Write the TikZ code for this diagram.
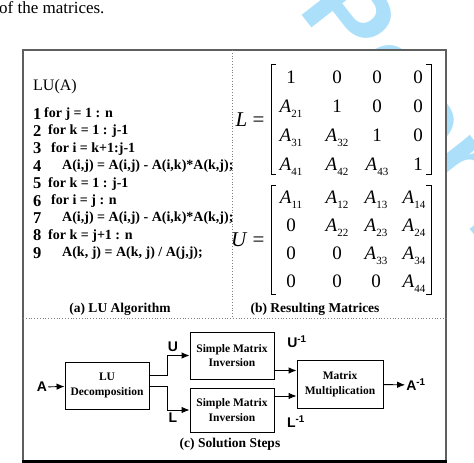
\documentclass[tikz,border=0pt]{standalone}
\usepackage{fontspec}
\setmainfont{Liberation Serif}
\newfontfamily\lblfont{Liberation Sans}
\usetikzlibrary{arrows.meta,positioning,calc}
\definecolor{wmcyan}{RGB}{172,224,250}
\definecolor{framegray}{RGB}{95,95,95}
\newcommand{\Asub}[1]{\textit{A}\raisebox{-0.55ex}{\fontsize{11}{11}\selectfont #1}}

\begin{document}
\begin{tikzpicture}[x=1pt,y=-1pt,
  blk/.style={draw,line width=0.9pt,minimum width=84pt,minimum height=47pt,inner sep=1pt,align=center,font=\fontsize{11.5}{14.5}\selectfont\bfseries},
  arr/.style={line width=0.9pt,-{Latex[length=8pt,width=6.5pt]}},
  lbl/.style={inner sep=1pt,font=\fontsize{14}{14}\selectfont\lblfont\bfseries},
  captxt/.style={font=\fontsize{13.5}{14}\selectfont\bfseries},
  code/.style={anchor=base west,inner sep=0pt,font=\fontsize{14}{14}\selectfont\bfseries},
  num/.style={anchor=base west,inner sep=0pt,font=\fontsize{16.5}{16}\selectfont\bfseries},
  ent/.style={anchor=base,inner sep=0pt,font=\fontsize{19}{19}\selectfont}]
\useasboundingbox (0,0) rectangle (474,463);
\node[font=\fontsize{111}{111}\selectfont\lblfont\bfseries,text=wmcyan,rotate=-52,anchor=west,inner sep=0pt] (wm) at (200,-180) {For Peer Review};
\node[font=\fontsize{17}{17}\selectfont,anchor=base west,inner sep=0pt] (hdr) at (-1,13) {of the matrices.};

\fill[white] (23,50) rectangle (446,462);
\draw[framegray,line width=1.2pt] (23,462) -- (23,50) -- (446,50) -- (446,462);
\draw[line width=2.5pt] (22,461.5) -- (447,461.5);
\draw[gray,dotted,line width=0.8pt] (232,50) -- (232,318);
\draw[gray,dotted,line width=0.8pt] (23,318) -- (446,318);

\node[font=\fontsize{16}{16}\selectfont,anchor=west,inner sep=0pt] (title) at (33,87) {LU(A)};
\foreach \i in {1,...,9}
  \node[num] (n\i) at (33,{113+17.4*(\i-1)+6}) {\i};
\node[code] (l1) at (44,117.5) {for j = 1 : n};
\node[code] (l2) at (48,134.9) {for k = 1 : j-1};
\node[code] (l3) at (51,152.3) {for i = k+1:j-1};
\node[code] (l4) at (62,169.7) {A(i,j) = A(i,j) - A(i,k)*A(k,j);};
\node[code] (l5) at (48,187.1) {for k = 1 : j-1};
\node[code] (l6) at (51,204.5) {for i = j : n};
\node[code] (l7) at (62,221.9) {A(i,j) = A(i,j) - A(i,k)*A(k,j);};
\node[code] (l8) at (48,239.3) {for k = j+1 : n};
\node[code] (l9) at (62,256.7) {A(k, j) = A(k, j) / A(j,j);};

\node[font=\fontsize{21}{21}\selectfont,anchor=east] (leq) at (268,120) {\textit{L} =};
\node[font=\fontsize{21}{21}\selectfont,anchor=east] (ueq) at (268,240) {\textit{U} =};
\foreach \r/\y/\a/\b/\c/\d in {1/77/1/0/0/0, 2/106/{\Asub{21}}/1/0/0, 3/135/{\Asub{31}}/{\Asub{32}}/1/0, 4/164/{\Asub{41}}/{\Asub{42}}/{\Asub{43}}/1}{
  \node[ent] (la\r) at (291,\y+6.5) {\a};
  \node[ent] (lb\r) at (337,\y+6.5) {\b};
  \node[ent] (lc\r) at (377,\y+6.5) {\c};
  \node[ent] (ld\r) at (418,\y+6.5) {\d};
}
\foreach \r/\y/\a/\b/\c/\d in {1/197/{\Asub{11}}/{\Asub{12}}/{\Asub{13}}/{\Asub{14}}, 2/225/0/{\Asub{22}}/{\Asub{23}}/{\Asub{24}}, 3/253/0/0/{\Asub{33}}/{\Asub{34}}, 4/281/0/0/0/{\Asub{44}}}{
  \node[ent] (ua\r) at (291,\y+6.5) {\a};
  \node[ent] (ub\r) at (337,\y+6.5) {\b};
  \node[ent] (uc\r) at (376,\y+6.5) {\c};
  \node[ent] (ud\r) at (414,\y+6.5) {\d};
}
\draw[line width=0.9pt] (276,64) -- (271,64) -- (271,174) -- (276,174);
\draw[line width=0.9pt] (426,64) -- (431,64) -- (431,174) -- (426,174);
\draw[line width=0.9pt] (276,185) -- (271,185) -- (271,294) -- (276,294);
\draw[line width=0.9pt] (426,185) -- (431,185) -- (431,294) -- (426,294);

\node[captxt] (capa) at (120,309) {(a) LU Algorithm};
\node[captxt] (capb) at (315,309) {(b) Resulting Matrices};

\node[lbl] (a) at (42,387) {A};
\node[blk] (lu) at (107,385.5) {LU\\Decomposition};
\node[blk] (inv1) at (232,355.5) {Simple Matrix\\Inversion};
\node[blk,minimum height=44pt] (inv2) at (232,410) {Simple Matrix\\Inversion};
\node[blk,minimum width=86pt,minimum height=48pt] (mm) at (340,384) {Matrix\\Multiplication};
\node[lbl] (ainv) at (416,385) {A\textsuperscript{-1}};
\node[lbl] (u) at (173,347) {U};
\node[lbl] (l) at (173,418) {L};
\node[lbl] (uinv) at (297,342) {U\textsuperscript{-1}};
\node[lbl] (linv) at (296,422) {L\textsuperscript{-1}};
\draw[arr] (a) -- (lu);
\draw[arr] ([yshift=10pt]lu.east) -- ++(18,0) |- (inv1.west);
\draw[arr] ([yshift=-1pt]lu.east) -- ++(18,0) |- (inv2.west);
\coordinate (uo) at ([yshift=-15pt]inv1.east);
\coordinate (lo) at ([yshift=14pt]inv2.east);
\draw[arr] (uo) -- (uo -| mm.west);
\draw[arr] (lo) -- (lo -| mm.west);
\draw[arr] (mm) -- (ainv);
\node[captxt] (capc) at (230,444) {(c) Solution Steps};
\end{tikzpicture}
\end{document}
